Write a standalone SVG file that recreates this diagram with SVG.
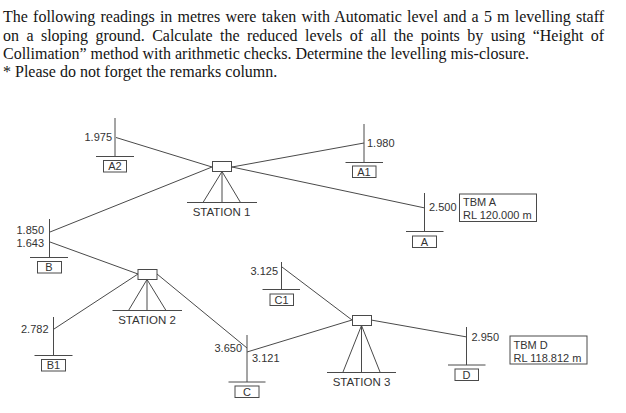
<svg xmlns="http://www.w3.org/2000/svg" width="626" height="413" viewBox="0 0 626 413">
<style>
.t{font-family:"Liberation Serif","Times New Roman",serif;font-size:16px;fill:#141414}
.l{font-family:"Liberation Sans",Arial,sans-serif;font-size:11px;fill:#333}
.s{font-size:11.5px}
.m{text-anchor:middle}
.e{text-anchor:end}
line,rect{stroke:#4a4a4a;stroke-width:1;fill:none}
rect{fill:#fff}
</style>
<rect x="0" y="0" width="626" height="413" style="fill:#fff;stroke:none"/>
<g id="question">
<text class="t" x="3" y="22" word-spacing="1.2">The following readings in metres were taken with Automatic level and a 5 m levelling staff</text>
<text class="t" x="3" y="40.5" word-spacing="3.4">on a sloping ground. Calculate the reduced levels of all the points by using “Height of</text>
<text class="t" x="3" y="58.5">Collimation” method with arithmetic checks. Determine the levelling mis-closure.</text>
<text class="t" x="3" y="77">* Please do not forget the remarks column.</text>
</g>
<g id="connectors">
<line x1="116" y1="137.5" x2="212" y2="167"/>
<line x1="50" y1="232" x2="212" y2="167"/>
<line x1="232" y1="167" x2="364" y2="143"/>
<line x1="232" y1="167" x2="425" y2="208"/>
<line x1="50" y1="242" x2="138" y2="274"/>
<line x1="54" y1="329" x2="138" y2="274"/>
<line x1="157" y1="274" x2="247" y2="348"/>
<line x1="247" y1="352" x2="352" y2="320"/>
<line x1="282" y1="267" x2="352" y2="320"/>
<line x1="371" y1="320" x2="467" y2="337"/>
</g>
<g id="station1">
<rect x="212.5" y="161.5" width="19" height="10"/>
<line x1="222" y1="171.5" x2="203" y2="202.5"/><line x1="222" y1="171.5" x2="222" y2="202.5"/><line x1="222" y1="171.5" x2="240.5" y2="202.5"/>
<line x1="187" y1="202.5" x2="257" y2="202.5"/>
<text class="l s m" x="221.5" y="216">STATION 1</text>
</g>
<g id="station2">
<rect x="138" y="269.5" width="19" height="10"/>
<line x1="147" y1="279.5" x2="128.5" y2="310.5"/><line x1="147" y1="279.5" x2="147" y2="310.5"/><line x1="147" y1="279.5" x2="166" y2="310.5"/>
<line x1="112.5" y1="310.5" x2="182" y2="310.5"/>
<text class="l s m" x="147" y="324">STATION 2</text>
</g>
<g id="station3">
<rect x="352.5" y="315.5" width="19" height="10"/>
<line x1="361.5" y1="325.5" x2="343" y2="372"/><line x1="361.5" y1="325.5" x2="361.5" y2="372"/><line x1="361.5" y1="325.5" x2="380" y2="372"/>
<line x1="327" y1="372.5" x2="396" y2="372.5"/>
<text class="l s m" x="361.5" y="386">STATION 3</text>
</g>
<g id="staffA2">
<line x1="115" y1="118" x2="115" y2="156"/><line x1="96" y1="156.5" x2="134" y2="156.5"/>
<rect x="103.5" y="160.5" width="23" height="11.5"/>
<text class="l m" x="115" y="170">A2</text>
<text class="l e" x="112" y="141">1.975</text>
</g>
<g id="staffA1">
<line x1="364" y1="124" x2="364" y2="162"/><line x1="345.5" y1="162.5" x2="383" y2="162.5"/>
<rect x="352.5" y="166" width="23.5" height="11.5"/>
<text class="l m" x="364" y="176">A1</text>
<text class="l" x="367" y="147">1.980</text>
</g>
<g id="staffA">
<line x1="424.5" y1="193" x2="424.5" y2="231"/><line x1="406" y1="231.5" x2="443.5" y2="231.5"/>
<rect x="412.5" y="236" width="24" height="11.5"/>
<text class="l m" x="424.5" y="245.5">A</text>
<text class="l" x="429" y="211">2.500</text>
</g>
<g id="tbmA">
<rect x="459.5" y="194" width="77" height="27.5"/>
<text class="l" x="463" y="206">TBM A</text>
<text class="l" x="463" y="219">RL 120.000 m</text>
</g>
<g id="staffB">
<line x1="49.5" y1="219" x2="49.5" y2="257"/><line x1="30" y1="257.5" x2="68" y2="257.5"/>
<rect x="37.5" y="261.5" width="24" height="11.5"/>
<text class="l m" x="49" y="271">B</text>
<text class="l e" x="44" y="234">1.850</text>
<text class="l e" x="44" y="247">1.643</text>
</g>
<g id="staffB1">
<line x1="53.5" y1="317" x2="53.5" y2="355"/><line x1="34.5" y1="355.5" x2="72.5" y2="355.5"/>
<rect x="41.5" y="359.5" width="24" height="11.5"/>
<text class="l m" x="53.5" y="369">B1</text>
<text class="l e" x="48.5" y="333">2.782</text>
</g>
<g id="staffC1">
<line x1="281.5" y1="262" x2="281.5" y2="289"/><line x1="262.5" y1="289.5" x2="300" y2="289.5"/>
<rect x="270" y="294" width="23.5" height="11.5"/>
<text class="l m" x="281.5" y="304">C1</text>
<text class="l e" x="278" y="275">3.125</text>
</g>
<g id="staffC">
<line x1="247" y1="335" x2="247" y2="382"/><line x1="228.5" y1="382" x2="265.5" y2="382"/>
<rect x="235" y="386" width="24" height="11.5"/>
<text class="l m" x="247" y="396">C</text>
<text class="l e" x="242" y="352">3.650</text>
<text class="l" x="252" y="362">3.121</text>
</g>
<g id="staffD">
<line x1="466.5" y1="327" x2="466.5" y2="365"/><line x1="448" y1="365" x2="485.5" y2="365"/>
<rect x="455" y="369" width="23.5" height="11.5"/>
<text class="l m" x="466.5" y="379">D</text>
<text class="l" x="471.5" y="341">2.950</text>
</g>
<g id="tbmD">
<rect x="510" y="336" width="77" height="28"/>
<text class="l" x="513.5" y="349">TBM D</text>
<text class="l" x="513.5" y="362">RL 118.812 m</text>
</g>
</svg>
